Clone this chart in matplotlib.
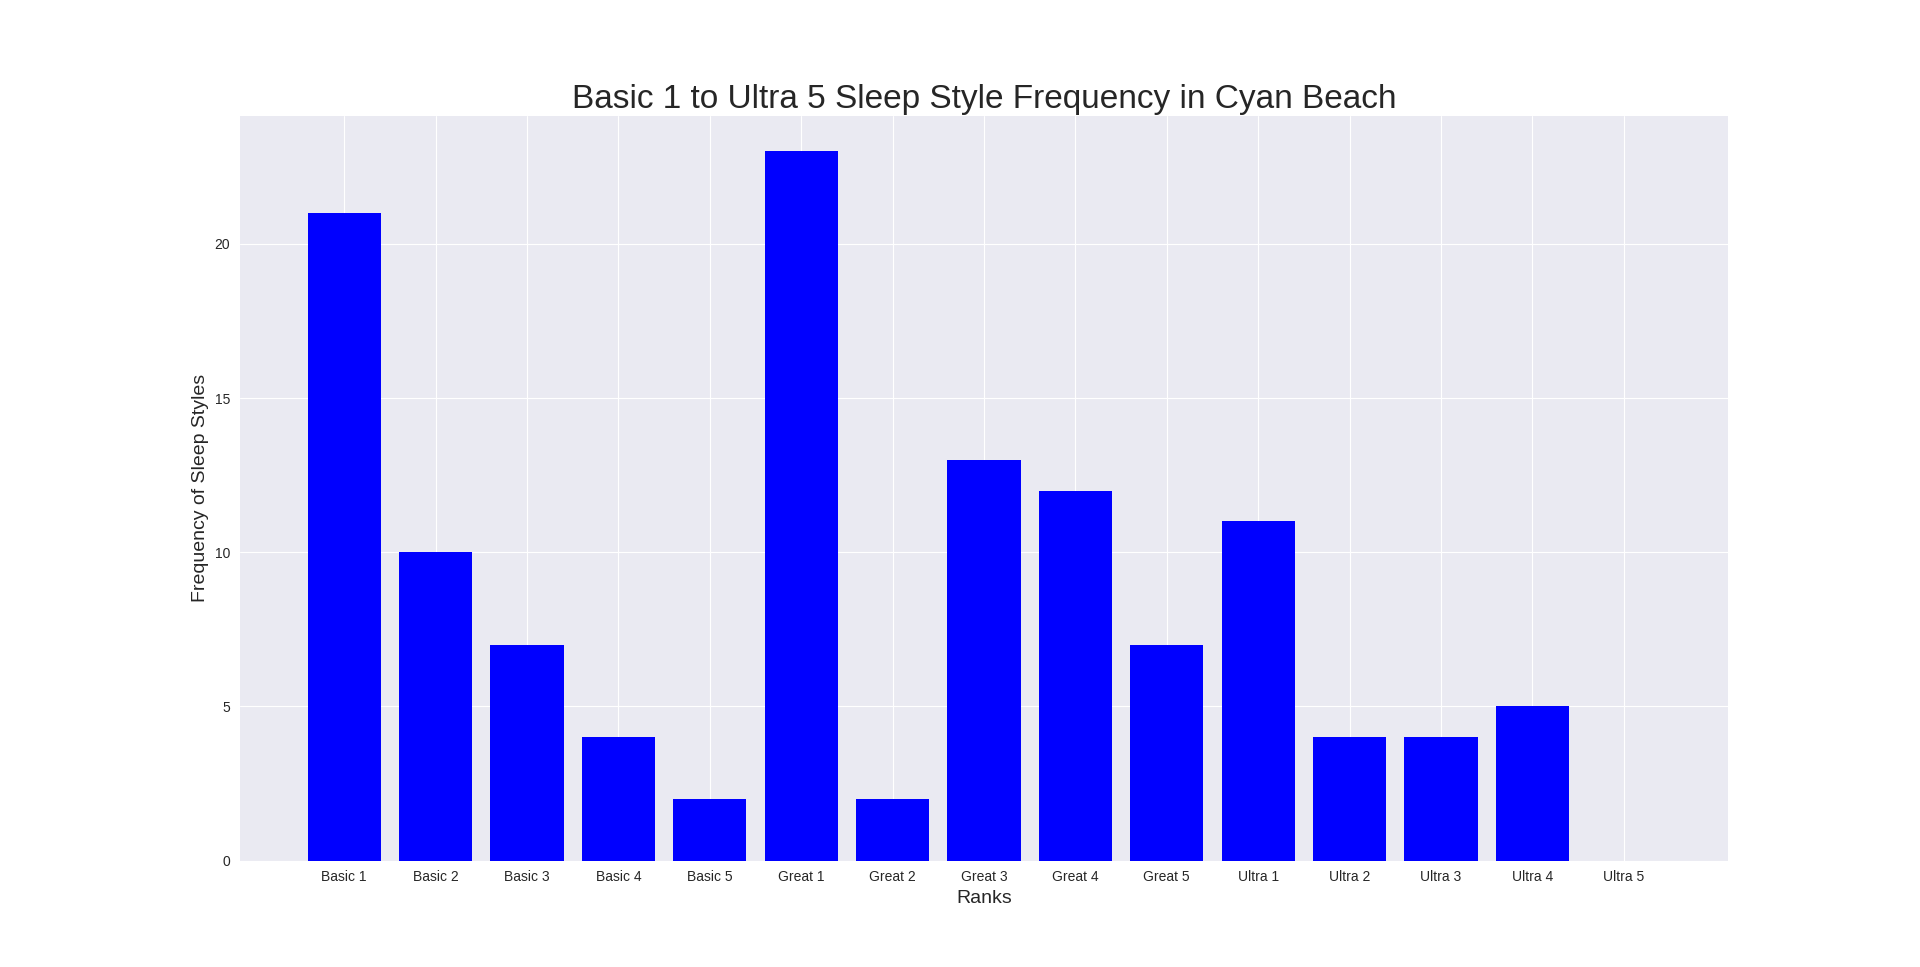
import matplotlib
matplotlib.use("Agg")
import matplotlib.pyplot as plt

ranks = ["Basic 1", "Basic 2", "Basic 3", "Basic 4", "Basic 5",
         "Great 1", "Great 2", "Great 3", "Great 4", "Great 5",
         "Ultra 1", "Ultra 2", "Ultra 3", "Ultra 4", "Ultra 5"]
frecuencia = [21, 10, 7, 4, 2, 23, 2, 13, 12, 7, 11, 4, 4, 5, 0]

plt.style.use("seaborn-v0_8-darkgrid")
plt.rcParams['font.family'] = ['Liberation Sans', 'DejaVu Sans']
plt.rcParams['xtick.major.pad'] = 7
plt.rcParams['ytick.major.pad'] = 7

fig = plt.figure(figsize=(19.2, 9.67), dpi=100)
plt.bar(ranks, frecuencia, color="blue")
plt.title("Basic 1 to Ultra 5 Sleep Style Frequency in Cyan Beach", fontsize=24)
plt.xlabel("Ranks", fontsize=14)
plt.ylabel("Frequency of Sleep Styles", fontsize=14)
plt.xticks(fontsize=10)
plt.yticks(fontsize=10)
plt.savefig("out.png")
plt.close()
